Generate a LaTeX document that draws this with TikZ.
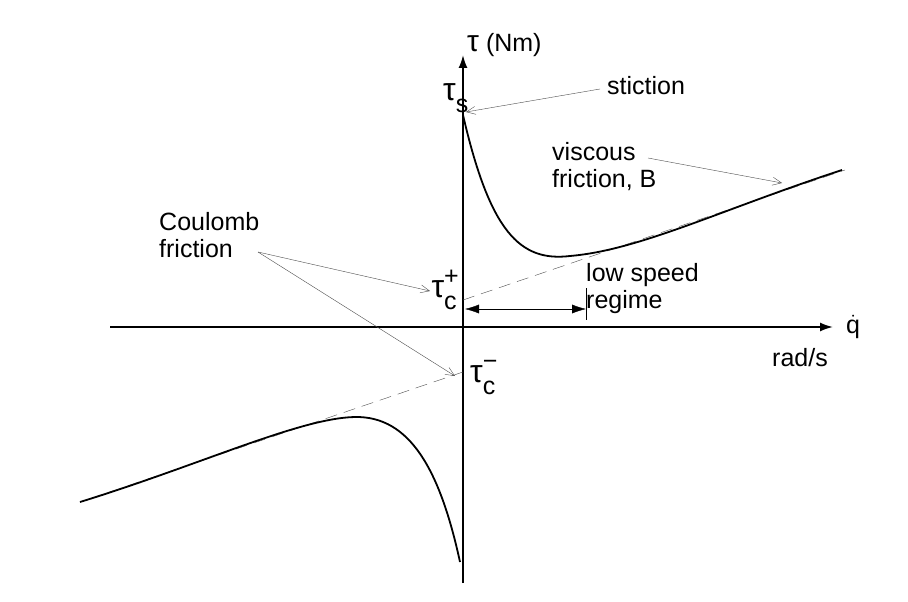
\documentclass[tikz,border=0pt]{standalone}
\usepackage{fontspec}
\setmainfont{Liberation Sans}
\usetikzlibrary{arrows.meta}
\newcommand{\taulbl}[2]{{\fontsize{32}{34}\selectfont τ}\raisebox{-12pt}{\rlap{#2}}\raisebox{13pt}{#1}}
\tikzset{
  lbl/.style={font=\fontsize{25}{27}\selectfont, inner sep=1pt},
  pointer/.style={draw=black!70, -{Straight Barb[length=9pt,width=8pt]}},
  axis/.style={line width=1.8pt, -{Latex[length=13pt,width=9pt]}}
}
\begin{document}
\begin{tikzpicture}[x=1pt,y=-1pt]
  \useasboundingbox (0,0) rectangle (908,602);

  % axes
  \coordinate (o) at (463,327);
  \draw[axis] (463,583) -- (463,55);
  \draw[axis] (110,327) -- (833,327);

  % coulomb + viscous lines
  \draw[dashed, dash pattern=on 12pt off 7pt, black!70] (463,300) -- (845,170);
  \draw[dashed, dash pattern=on 12pt off 7pt, black!70] (463,372) -- (80,502);

  % friction curves
  \draw[line width=1.8pt] (463,115) .. controls (490,232) and (520,262) .. (570,256)
        .. controls (640,250) and (720,210) .. (842,170);
  \draw[line width=1.8pt] (460,562) .. controls (440,470) and (410,416) .. (355,417)
        .. controls (300,418) and (200,465) .. (80,502);

  % labels
  \node[lbl, anchor=west] (tau) at (466,45) {{\fontsize{30}{32}\selectfont τ} (Nm)};
  \node[lbl, anchor=east] (taus) at (457,98) {\taulbl{}{s}};
  \node[lbl, anchor=east] (taucp) at (460,290) {\taulbl{+}{c}};
  \node[lbl, anchor=west] (taucm) at (469,378) {\taulbl{\textminus}{c}};
  \node[lbl, anchor=west] (stic) at (606,86) {stiction};
  \node[lbl, anchor=west, align=left] (visc) at (551,167) {viscous\\friction, B};
  \node[lbl, anchor=west, align=left] (coul) at (158,235) {Coulomb\\friction};
  \node[lbl, anchor=west, align=left] (low) at (585,289) {low speed\\regime};
  \node[lbl, anchor=west, inner sep=0pt] (qd) at (846,327) {$\dot{\mathrm{q}}$};
  \node[lbl] (rad) at (800,358) {rad/s};

  % pointers
  \coordinate (ps) at (466,112);
  \coordinate (pv) at (782,183);
  \coordinate (pc1) at (430,291);
  \coordinate (pc2) at (455,376);
  \draw[pointer] (600,89) -- (ps);
  \draw[pointer] (648,158) -- (pv);
  \draw[pointer] (258,252) -- (pc1);
  \draw[pointer] (258,252) -- (pc2);

  % low speed regime span
  \coordinate (lsa) at (465,309);
  \coordinate (lsb) at (586,309);
  \draw (586,288) -- (586,320);
  \draw[{Latex[length=14pt,width=9pt]}-{Latex[length=14pt,width=9pt]}] (lsa) -- (lsb);
\end{tikzpicture}
\end{document}
